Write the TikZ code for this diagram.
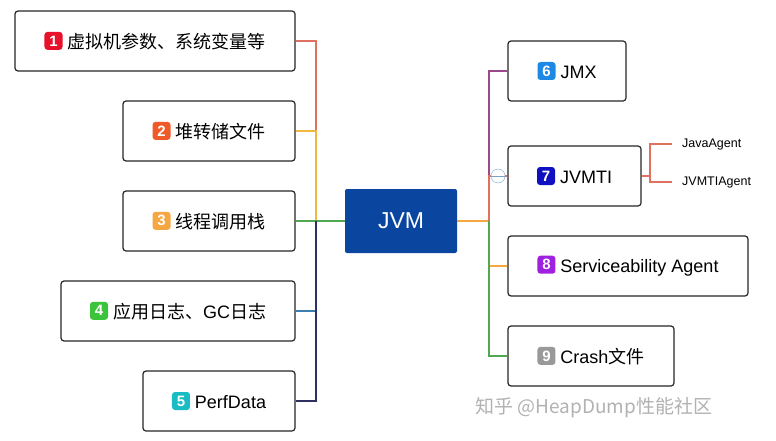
\documentclass[tikz,border=0pt]{standalone}
\usepackage{fontspec}
\setmainfont{Liberation Sans}
\newfontfamily\cjk{Noto Sans CJK SC}
\usetikzlibrary{positioning}
\definecolor{bOne}{HTML}{E8102A}
\definecolor{bTwo}{HTML}{F05A28}
\definecolor{bThree}{HTML}{F5A742}
\definecolor{bFour}{HTML}{3CC33C}
\definecolor{bFive}{HTML}{1ABCC4}
\definecolor{bSix}{HTML}{1E88E5}
\definecolor{bSeven}{HTML}{1010C0}
\definecolor{bEight}{HTML}{A020E0}
\definecolor{bNine}{HTML}{999999}
\definecolor{jvmblue}{HTML}{0A46A0}
\definecolor{lRed}{HTML}{E07060}
\definecolor{lYellow}{HTML}{F0B840}
\definecolor{lGreen}{HTML}{50A850}
\definecolor{lBlue}{HTML}{3C7EB0}
\definecolor{lNavy}{HTML}{303060}
\definecolor{lPurple}{HTML}{9A4A8A}
\newcommand{\badge}[2]{\tikz[baseline=-0.8ex]\node[fill=#1,rounded corners=3pt,text=white,inner sep=0pt,minimum size=18pt,font=\fontsize{15}{15}\selectfont\rmfamily\bfseries]{#2};\hspace{5pt}}
\tikzset{
  item/.style={draw=black!85,line width=1.2pt,rounded corners=3pt,fill=white,minimum height=60pt,font=\fontsize{18}{21}\selectfont\cjk,inner sep=0pt},
  leaf/.style={font=\fontsize{12.5}{14}\selectfont,anchor=west,inner sep=0pt},
  link/.style={line width=1.2pt}
}
\begin{document}
\begin{tikzpicture}[x=1pt,y=-1pt]
\useasboundingbox[fill=white] (0,0) rectangle (776,441);
% centre
\node[fill=jvmblue,rounded corners=2pt,minimum width=112pt,minimum height=64pt,text=white,font=\fontsize{23}{26}\selectfont] (jvm) at (401,221) {JVM};
% left side
\node[item,minimum width=280pt] (args) at (155,41) {\badge{bOne}{1}虚拟机参数、系统变量等};
\node[item,minimum width=172pt] (dump) at (209,131) {\badge{bTwo}{2}堆转储文件};
\node[item,minimum width=172pt] (stack) at (209,221) {\badge{bThree}{3}线程调用栈};
\node[item,minimum width=234pt] (logs) at (178,311) {\badge{bFour}{4}应用日志、{\rmfamily GC}日志};
\node[item,minimum width=152pt] (perf) at (219,401) {\badge{bFive}{5}\rmfamily PerfData};
% right side
\node[item,minimum width=118pt] (jmx) at (567,71) {\badge{bSix}{6}\rmfamily JMX};
\node[item,minimum width=133pt] (jvmti) at (574.5,176) {\badge{bSeven}{7}\rmfamily JVMTI};
\node[item,minimum width=240pt] (sa) at (628,266) {\badge{bEight}{8}\rmfamily Serviceability Agent};
\node[item,minimum width=166pt] (crash) at (591,356) {\badge{bNine}{9}{\rmfamily Crash}文件};
\node[leaf] (java) at (682,144) {JavaAgent};
\node[leaf] (tiagent) at (682,182) {JVMTIAgent};
% left connectors
\coordinate (lt) at (316,221);
\draw[link,lRed] (args.east) -| (316,131);
\draw[link,lYellow] (dump.east) -| (lt);
\draw[link,lGreen] (stack.east) -- (jvm.west);
\draw[link,lBlue] (logs.east) -- (316,311);
\draw[link,lNavy] (perf.east) -| (lt);
% right connectors
\coordinate (rt) at (489,221);
\draw[link,bThree] (jvm.east) -- (rt);
\draw[link,lPurple] (jmx.west) -| (489,176);
\draw[link,lRed] (jvmti.west) -| (rt);
\draw[link,bThree] (sa.west) -| (rt);
\draw[link,lGreen] (crash.west) -| (rt);
\draw[link,lRed] (jvmti.east) -- (650,176) |- ([xshift=-10pt]java.west);
\draw[link,lRed] (650,176) |- ([xshift=-10pt]tiagent.west);
\node[circle,draw=lBlue!70,fill=white,minimum size=14pt,inner sep=0pt] (fold) at (498,176) {};
\draw[lBlue!70] (fold.west) -- (fold.east);
% watermark
\node[font=\fontsize{19}{22}\selectfont\cjk,text=black!30,anchor=west] (mark) at (472,408) {知乎 @HeapDump性能社区};
\end{tikzpicture}
\end{document}
